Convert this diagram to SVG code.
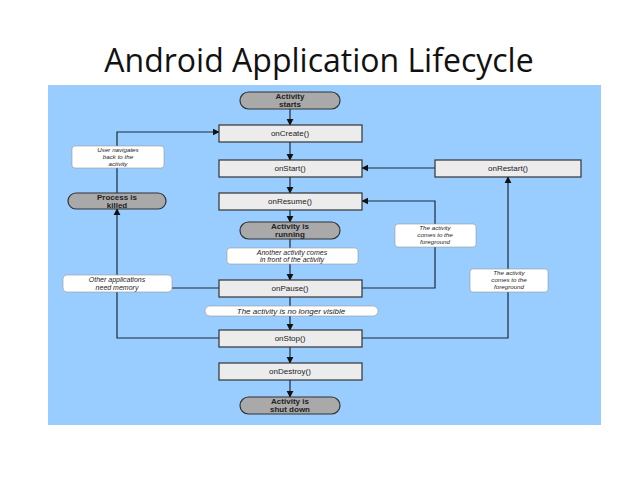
<svg xmlns="http://www.w3.org/2000/svg" width="638" height="478" viewBox="0 0 638 478">
<style>
.box{fill:#ececec;stroke:#333;stroke-width:1.2}
.ov{fill:#a9a9a9;stroke:#333;stroke-width:1.2}
.lbl{fill:#fff;stroke:#999;stroke-width:.6}
.t{font-family:"Liberation Sans",Arial,sans-serif;font-size:8px;fill:#222;text-anchor:middle}
.s{font-size:6.2px}
.m{font-size:7px}
.b{font-weight:bold}
.i{font-style:italic}
.c{fill:none;stroke:#1a2a3a;stroke-width:1.2}
</style>
<defs><marker id="a" viewBox="0 0 10 10" refX="9" refY="5" markerWidth="6" markerHeight="6" orient="auto"><path d="M0,0L10,5L0,10z" fill="#111"/></marker></defs>
<rect width="638" height="478" fill="#fff"/>
<text x="319" y="72" font-family="'Open Sans','Liberation Sans',sans-serif" font-size="32" text-anchor="middle" fill="#111">Android Application Lifecycle</text>
<rect x="48" y="85" width="553" height="340" fill="#99ccff"/>
<g id="connectors">
<path class="c" marker-end="url(#a)" d="M290,109V125"/>
<path class="c" marker-end="url(#a)" d="M290,142V160"/>
<path class="c" marker-end="url(#a)" d="M290,177V193"/>
<path class="c" marker-end="url(#a)" d="M290,210V222"/>
<path class="c" marker-end="url(#a)" d="M290,239V280"/>
<path class="c" marker-end="url(#a)" d="M290,297V330"/>
<path class="c" marker-end="url(#a)" d="M290,347V363"/>
<path class="c" marker-end="url(#a)" d="M290,380V397"/>
<path class="c" marker-end="url(#a)" d="M435,168H362"/>
<path class="c" marker-end="url(#a)" d="M362,288H435V201H362"/>
<path class="c" marker-end="url(#a)" d="M219,338H508V177"/>
<path class="c" marker-end="url(#a)" d="M219,338H117V209"/>
<path class="c" d="M219,288H172"/>
<path class="c" marker-end="url(#a)" d="M117,193V132H219"/>
</g>
<g id="start"><rect class="ov" x="240" y="92" width="100" height="17" rx="8.5"/><text class="t b" x="290" y="99">Activity</text><text class="t b" x="290" y="107">starts</text></g>
<g id="onCreate"><rect class="box" x="219" y="125" width="143" height="17"/><text class="t" x="290" y="136">onCreate()</text></g>
<g id="onStart"><rect class="box" x="219" y="160" width="143" height="17"/><text class="t" x="290" y="171">onStart()</text></g>
<g id="onResume"><rect class="box" x="219" y="193" width="143" height="17"/><text class="t" x="290" y="204">onResume()</text></g>
<g id="running"><rect class="ov" x="240" y="222" width="100" height="17" rx="8.5"/><text class="t b" x="290" y="229">Activity is</text><text class="t b" x="290" y="237">running</text></g>
<g id="onPause"><rect class="box" x="219" y="280" width="143" height="17"/><text class="t" x="290" y="291">onPause()</text></g>
<g id="onStop"><rect class="box" x="219" y="330" width="143" height="17"/><text class="t" x="290" y="341">onStop()</text></g>
<g id="onDestroy"><rect class="box" x="219" y="363" width="143" height="17"/><text class="t" x="290" y="374">onDestroy()</text></g>
<g id="shutdown"><rect class="ov" x="240" y="397" width="100" height="17" rx="8.5"/><text class="t b" x="290" y="404">Activity is</text><text class="t b" x="290" y="412">shut down</text></g>
<g id="onRestart"><rect class="box" x="435" y="160" width="146" height="17"/><text class="t" x="508" y="171">onRestart()</text></g>
<g id="killed"><rect class="ov" x="68" y="193" width="98" height="16" rx="8"/><text class="t b" x="117" y="200">Process is</text><text class="t b" x="117" y="208">killed</text></g>
<g id="lblUser"><rect class="lbl" x="72" y="146" width="92" height="22" rx="3"/><text class="t i s" x="118" y="152">User navigates</text><text class="t i s" x="118" y="159">back to the</text><text class="t i s" x="118" y="166">activity</text></g>
<g id="lblOther"><rect class="lbl" x="63" y="275" width="109" height="17" rx="4"/><text class="t i m" x="117" y="282">Other applications</text><text class="t i m" x="117" y="290">need memory</text></g>
<g id="lblAnother"><rect class="lbl" x="227" y="248" width="131" height="16" rx="3"/><text class="t i m" x="292" y="255">Another activity comes</text><text class="t i m" x="292" y="262">in front of the activity</text></g>
<g id="lblNoLonger"><rect class="lbl" x="205" y="306" width="173" height="10" rx="5"/><text class="t i" x="291" y="314">The activity is no longer visible</text></g>
<g id="lblFg1"><rect class="lbl" x="395" y="224" width="81" height="23" rx="3"/><text class="t i s" x="435" y="230">The activity</text><text class="t i s" x="435" y="237">comes to the</text><text class="t i s" x="435" y="244">foreground</text></g>
<g id="lblFg2"><rect class="lbl" x="470" y="269" width="78" height="23" rx="3"/><text class="t i s" x="509" y="275">The activity</text><text class="t i s" x="509" y="282">comes to the</text><text class="t i s" x="509" y="289">foreground</text></g>
</svg>
